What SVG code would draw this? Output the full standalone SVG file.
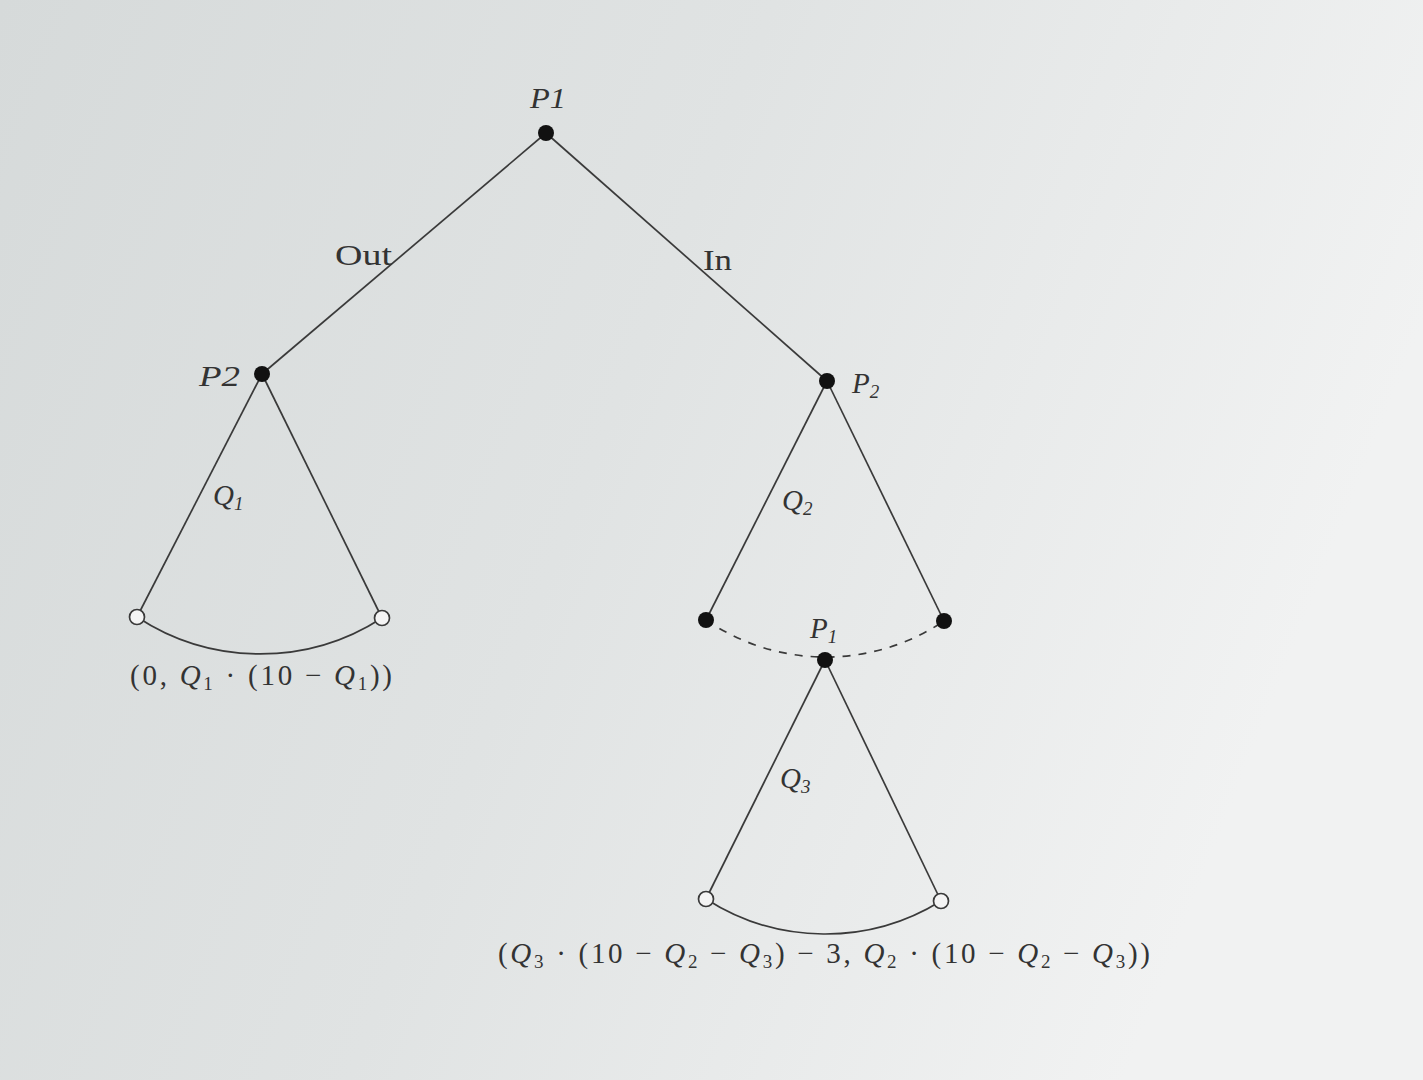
<svg xmlns="http://www.w3.org/2000/svg" width="1423" height="1080" viewBox="0 0 1423 1080">
<defs>
<linearGradient id="bg" x1="0" y1="0" x2="1" y2="0.3">
<stop offset="0" stop-color="#d6dada"/>
<stop offset="0.5" stop-color="#e0e3e3"/>
<stop offset="1" stop-color="#f1f2f2"/>
</linearGradient>
<style>
.e{stroke:#3a3a3a;stroke-width:1.7;fill:none}
.d{stroke:#3a3a3a;stroke-width:1.7;fill:none;stroke-dasharray:8 8}
.f{fill:#111}
.h{fill:#f4f4f4;stroke:#3a3a3a;stroke-width:1.7}
.t{font-family:"Liberation Serif",serif;font-size:29px;fill:#333}
.i{font-style:italic}
.s{font-size:19px}
</style>
</defs>
<rect width="1423" height="1080" fill="url(#bg)"/>
<g id="connectors">
<line class="e" x1="546" y1="133" x2="262" y2="374"/>
<line class="e" x1="546" y1="133" x2="827" y2="381"/>
<line class="e" x1="262" y1="374" x2="137" y2="617"/>
<line class="e" x1="262" y1="374" x2="382" y2="618"/>
<path class="e" d="M137 617 A224 224 0 0 0 382 618"/>
<line class="e" x1="827" y1="381" x2="706" y2="620"/>
<line class="e" x1="827" y1="381" x2="944" y2="621"/>
<path class="d" d="M706 620 A212 212 0 0 0 944 621"/>
<line class="e" x1="825" y1="660" x2="706" y2="899"/>
<line class="e" x1="825" y1="660" x2="941" y2="901"/>
<path class="e" d="M706 899 A220 220 0 0 0 941 901"/>
<text class="t" x="335" y="265" textLength="57" lengthAdjust="spacingAndGlyphs">Out</text>
<text class="t" x="703" y="270" textLength="29" lengthAdjust="spacingAndGlyphs">In</text>
<text class="t i" x="213" y="505">Q<tspan class="s" dy="5">1</tspan></text>
<text class="t i" x="782" y="510">Q<tspan class="s" dy="5">2</tspan></text>
<text class="t i" x="780" y="788">Q<tspan class="s" dy="5">3</tspan></text>
</g>
<g id="n-root">
<circle class="f" cx="546" cy="133" r="8"/>
<text class="t i" x="530" y="108" textLength="36" lengthAdjust="spacingAndGlyphs">P1</text>
</g>
<g id="n-p2-left">
<circle class="f" cx="262" cy="374" r="8"/>
<text class="t i" x="199" y="386" textLength="41" lengthAdjust="spacingAndGlyphs">P2</text>
</g>
<g id="n-p2-right">
<circle class="f" cx="827" cy="381" r="8"/>
<text class="t i" x="852" y="393">P<tspan class="s" dy="5">2</tspan></text>
</g>
<g id="n-leaf-l1"><circle class="h" cx="137" cy="617" r="7.5"/></g>
<g id="n-leaf-l2"><circle class="h" cx="382" cy="618" r="7.5"/></g>
<g id="payoff-left">
<text class="t" x="130" y="685" textLength="262" lengthAdjust="spacing">(0, <tspan class="i">Q</tspan><tspan class="s" dy="5">1</tspan><tspan dy="-5"> · (10 − </tspan><tspan class="i">Q</tspan><tspan class="s" dy="5">1</tspan><tspan dy="-5">))</tspan></text>
</g>
<g id="n-info-l"><circle class="f" cx="706" cy="620" r="8"/></g>
<g id="n-info-r"><circle class="f" cx="944" cy="621" r="8"/></g>
<g id="n-p1-lower">
<circle class="f" cx="825" cy="660" r="8"/>
<text class="t i" x="810" y="638">P<tspan class="s" dy="5">1</tspan></text>
</g>
<g id="n-leaf-b1"><circle class="h" cx="706" cy="899" r="7.5"/></g>
<g id="n-leaf-b2"><circle class="h" cx="941" cy="901" r="7.5"/></g>
<g id="payoff-right">
<text class="t" x="498" y="963" textLength="652" lengthAdjust="spacing">(<tspan class="i">Q</tspan><tspan class="s" dy="5">3</tspan><tspan dy="-5"> · (10 − </tspan><tspan class="i">Q</tspan><tspan class="s" dy="5">2</tspan><tspan dy="-5"> − </tspan><tspan class="i">Q</tspan><tspan class="s" dy="5">3</tspan><tspan dy="-5">) − 3, </tspan><tspan class="i">Q</tspan><tspan class="s" dy="5">2</tspan><tspan dy="-5"> · (10 − </tspan><tspan class="i">Q</tspan><tspan class="s" dy="5">2</tspan><tspan dy="-5"> − </tspan><tspan class="i">Q</tspan><tspan class="s" dy="5">3</tspan><tspan dy="-5">))</tspan></text>
</g>
</svg>
